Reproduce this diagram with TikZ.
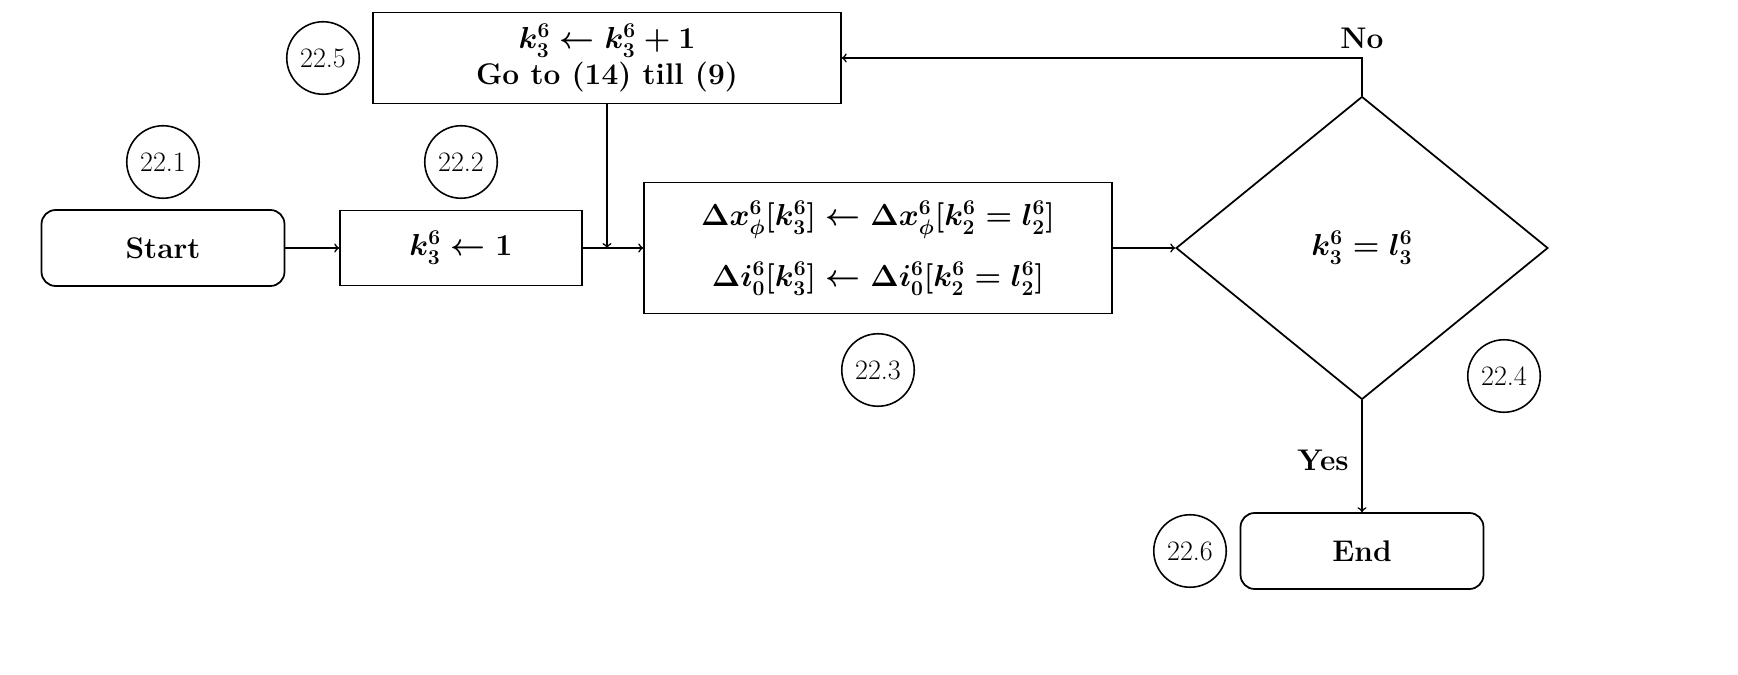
\documentclass[tikz,border=0pt]{standalone}
\usepackage{amsmath}
\usetikzlibrary{shapes.geometric,positioning}
\begin{document}
\begin{tikzpicture}[x=0.02cm,y=-0.02cm, line width=0.9pt,
	box/.style = {draw, line width=1pt, font=\fontsize{17}{21}\selectfont\bfseries\boldmath, align=center, inner sep=0pt},
	term/.style = {box, rounded corners=8pt, minimum width=4.86cm, minimum height=1.52cm},
	tag/.style = {draw, circle, line width=0.9pt, minimum size=1.45cm, inner sep=0pt, font=\fontsize{16}{18}\selectfont},
	lbl/.style = {font=\fontsize{17}{21}\selectfont\bfseries},
	>=to]
	\useasboundingbox (0,0) rectangle (1738,675);
	\node[term] (start) at (163,248) {Start};
	\node[box, minimum width=4.84cm, minimum height=1.5cm] (init) at (461,248) {$k_3^6 \leftarrow 1$};
	\node[box, minimum width=9.36cm, minimum height=2.62cm] (assign) at (878,248)
		{$\Delta x_\phi^6[k_3^6] \leftarrow \Delta x_\phi^6[k_2^6 = l_2^6]$\\[12pt]
		 $\Delta i_0^6[k_3^6] \leftarrow \Delta i_0^6[k_2^6 = l_2^6]$};
	\node[box, diamond, minimum width=7.44cm, minimum height=6.06cm, aspect=1.23] (test) at (1362,248) {$k_3^6 = l_3^6$};
	\node[box, minimum width=9.36cm, minimum height=1.82cm] (incr) at (607,58)
		{$k_3^6 \leftarrow k_3^6 + 1$\\Go to (14) till (9)};
	\node[term] (end) at (1362,551) {End};
	\node[tag] (s1) at (163,162) {22.1};
	\node[tag] (s2) at (461,162) {22.2};
	\node[tag] (s3) at (878,370) {22.3};
	\node[tag] (s4) at (1504,376) {22.4};
	\node[tag] (s5) at (323,58) {22.5};
	\node[tag] (s6) at (1190,551) {22.6};
	\coordinate (corner) at (1362,58);
	\coordinate (join) at (607,248);
	\draw[->] (start) -- (init);
	\draw[->] (init) -- (assign);
	\draw[->] (assign) -- (test);
	\draw[->] (test.north) -- (corner) -- (incr.east);
	\draw[->] (incr.south) -- (join);
	\draw[->] (test.south) -- (end);
	\node[lbl] (no) at (1362,38) {No};
	\node[lbl] (yes) at (1323,460) {Yes};
\end{tikzpicture}
\end{document}
